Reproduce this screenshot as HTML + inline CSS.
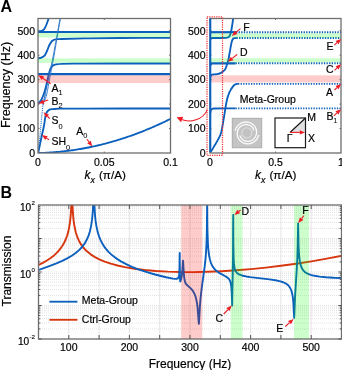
<!DOCTYPE html><html><head><meta charset="utf-8"><style>html,body{margin:0;padding:0;background:#fff;width:342px;height:370px;overflow:hidden}</style></head><body><svg width="342" height="370" viewBox="0 0 342 370" style="display:block;will-change:transform;font-family:'Liberation Sans',sans-serif;"><defs><clipPath id="cl"><rect x="38.0" y="18.5" width="132.5" height="134.5"/></clipPath><clipPath id="cr"><rect x="210.0" y="18.5" width="131.0" height="134.5"/></clipPath><clipPath id="cb"><rect x="38.5" y="205.0" width="303.0" height="134.0"/></clipPath></defs><rect width="342" height="370" fill="#fff"/><text x="0.5" y="11.6" font-size="16" text-anchor="start" font-weight="bold" fill="#000" >A</text>
<text x="0.5" y="197.6" font-size="16" text-anchor="start" font-weight="bold" fill="#000" >B</text>
<path d="M38 153 L39.33 152.97 L40.65 152.94 L41.98 152.9 L43.3 152.85 L44.62 152.8 L45.95 152.74 L47.28 152.68 L48.6 152.61 L49.92 152.53 L51.25 152.44 L52.58 152.35 L53.9 152.26 L55.23 152.15 L56.55 152.04 L57.88 151.93 L59.2 151.81 L60.53 151.68 L61.85 151.54 L63.18 151.4 L64.5 151.25 L65.83 151.1 L67.15 150.94 L68.48 150.77 L69.8 150.6 L71.12 150.42 L72.45 150.24 L73.78 150.04 L75.1 149.84 L76.43 149.64 L77.75 149.43 L79.08 149.21 L80.4 148.99 L81.72 148.76 L83.05 148.52 L84.38 148.28 L85.7 148.03 L87.03 147.77 L88.35 147.51 L89.68 147.24 L91 146.97 L92.33 146.69 L93.65 146.4 L94.97 146.11 L96.3 145.81 L97.62 145.5 L98.95 145.19 L100.28 144.87 L101.6 144.54 L102.92 144.21 L104.25 143.88 L105.58 143.53 L106.9 143.18 L108.23 142.82 L109.55 142.46 L110.88 142.09 L112.2 141.71 L113.53 141.33 L114.85 140.94 L116.18 140.55 L117.5 140.15 L118.83 139.74 L120.15 139.32 L121.47 138.9 L122.8 138.48 L124.12 138.04 L125.45 137.6 L126.78 137.16 L128.1 136.71 L129.43 136.25 L130.75 135.78 L132.08 135.31 L133.4 134.83 L134.73 134.35 L136.05 133.86 L137.38 133.36 L138.7 132.86 L140.03 132.35 L141.35 131.84 L142.68 131.31 L144 130.79 L145.32 130.25 L146.65 129.71 L147.98 129.16 L149.3 128.61 L150.62 128.05 L151.95 127.48 L153.28 126.91 L154.6 126.33 L155.93 125.74 L157.25 125.15 L158.57 124.55 L159.9 123.95 L161.23 123.34 L162.55 122.72 L163.88 122.1 L165.2 121.47 L166.53 120.83 L167.85 120.19 L169.18 119.54 L170.5 118.89" fill="none" stroke="#0b5fbd" stroke-width="1.85" stroke-linejoin="round" clip-path="url(#cl)"/>
<path d="M38.2 153 C38.67 150.75 40.02 144.17 41 139.5 C41.98 134.83 43.38 128.75 44.1 125 C44.82 121.25 44.85 119.12 45.3 117 C45.75 114.88 46.1 113.53 46.8 112.3 C47.5 111.07 48.47 110.13 49.5 109.6 C50.53 109.07 51.25 109.25 53 109.1 C54.75 108.95 55.5 108.78 60 108.7 C64.5 108.62 61.58 108.63 80 108.6 C98.42 108.57 155.42 108.52 170.5 108.5" fill="none" stroke="#0b5fbd" stroke-width="1.85" stroke-linejoin="round" clip-path="url(#cl)"/>
<path d="M38 32 L170.5 32" fill="none" stroke="#0b5fbd" stroke-width="2.2" stroke-linejoin="round" />
<path d="M38 74.2 L170.5 74.2" fill="none" stroke="#0b5fbd" stroke-width="2.2" stroke-linejoin="round" />
<path d="M38 31.3 C38.58 31.25 40.5 31.32 41.5 31 C42.5 30.68 43.2 30.4 44 29.4 C44.8 28.4 45.5 26.9 46.3 25 C47.1 23.1 48.38 19.17 48.8 18" fill="none" stroke="#0b5fbd" stroke-width="1.85" stroke-linejoin="round" clip-path="url(#cl)"/>
<path d="M38 58.4 C38.58 58.27 40.37 58.12 41.5 57.6 C42.63 57.08 43.85 56.48 44.8 55.3 C45.75 54.12 46.43 52.22 47.2 50.5 C47.97 48.78 48.6 46.58 49.4 45 C50.2 43.42 50.98 41.95 52 41 C53.02 40.05 53.83 39.63 55.5 39.3 C57.17 38.97 56.75 39.15 62 39 C67.25 38.85 77.33 38.57 87 38.4 C96.67 38.23 106.08 38.1 120 38 C133.92 37.9 162.08 37.83 170.5 37.8" fill="none" stroke="#0b5fbd" stroke-width="1.85" stroke-linejoin="round" clip-path="url(#cl)"/>
<path d="M38.2 103.8 C38.7 103.17 40.23 101.72 41.2 100 C42.17 98.28 43.15 95.97 44 93.5 C44.85 91.03 45.53 88.28 46.3 85.2 C47.07 82.12 47.92 77.7 48.6 75 C49.28 72.3 49.7 70.57 50.4 69 C51.1 67.43 51.55 66.4 52.8 65.6 C54.05 64.8 54.62 64.53 57.9 64.2 C61.18 63.87 53.73 63.72 72.5 63.6 C91.27 63.48 154.17 63.52 170.5 63.5" fill="none" stroke="#0b5fbd" stroke-width="1.85" stroke-linejoin="round" clip-path="url(#cl)"/>
<path d="M38.3 152.5 C38.58 149.58 39.45 140.75 40 135 C40.55 129.25 41.1 122.95 41.6 118 C42.1 113.05 42.4 109.3 43 105.3 C43.6 101.3 44.83 95.88 45.2 94" fill="none" stroke="#2a74c8" stroke-width="1.1" stroke-dasharray="1 0.9" stroke-linejoin="round" clip-path="url(#cl)"/>
<path d="M43 105.3 C43.38 103.42 44.37 98.55 45.3 94 C46.23 89.45 47.48 83.33 48.6 78 C49.72 72.67 50.73 68.33 52 62 C53.27 55.67 54.85 47.33 56.2 40 C57.55 32.67 59.45 21.67 60.1 18" fill="none" stroke="#2a74c8" stroke-width="0.9" stroke-linejoin="round" clip-path="url(#cl)"/>
<path d="M44.6 101 C44.97 99.83 45.93 97.83 46.8 94 C47.67 90.17 48.78 83.33 49.8 78 C50.82 72.67 51.75 68.33 52.9 62 C54.05 55.67 55.43 47.33 56.7 40 C57.97 32.67 59.87 21.67 60.5 18" fill="none" stroke="#2a74c8" stroke-width="0.9" stroke-linejoin="round" clip-path="url(#cl)"/>
<rect x="38" y="33.1" width="132.5" height="4.3" fill="rgba(0,255,0,0.2)" />
<rect x="38" y="58.3" width="132.5" height="4.6" fill="rgba(0,255,0,0.2)" />
<rect x="38" y="75.3" width="132.5" height="7.7" fill="rgba(255,0,0,0.2)" />
<path d="M209.8 152.6 C210.22 152.07 211.48 150.62 212.3 149.4 C213.12 148.18 213.75 146.92 214.7 145.3 C215.65 143.68 216.92 141.85 218 139.7 C219.08 137.55 220.27 135.78 221.2 132.4 C222.13 129.02 222.93 123.18 223.6 119.4 C224.27 115.62 224.65 112.93 225.2 109.7 C225.75 106.47 226.2 102.9 226.9 100 C227.6 97.1 228.32 94.67 229.4 92.3 C230.48 89.93 232.3 87.17 233.4 85.8 C234.5 84.43 235.23 84.42 236 84.1 C236.77 83.78 237.67 83.93 238 83.9" fill="none" stroke="#0b5fbd" stroke-width="1.85" stroke-linejoin="round" />
<path d="M238 83.9 L341 83.9" fill="none" stroke="#0b5fbd" stroke-width="1.9" stroke-dasharray="1.3 1.3" stroke-linejoin="round" />
<path d="M210.3 113 C210.38 112.53 210.47 110.9 210.8 110.2 C211.13 109.5 211.6 109.08 212.3 108.8 C213 108.52 211.13 108.57 215 108.5 C218.87 108.43 232.08 108.42 235.5 108.4" fill="none" stroke="#0b5fbd" stroke-width="1.85" stroke-linejoin="round" />
<path d="M235.5 108.4 L341 108.4" fill="none" stroke="#0b5fbd" stroke-width="1.9" stroke-dasharray="1.3 1.3" stroke-linejoin="round" />
<path d="M210.3 77 C210.45 76.67 210.75 75.42 211.2 75 C211.65 74.58 212.03 74.63 213 74.5 C213.97 74.37 215.75 74.43 217 74.2 C218.25 73.97 219.47 73.6 220.5 73.1 C221.53 72.6 222.38 71.92 223.2 71.2 C224.02 70.48 224.57 70.6 225.4 68.8 C226.23 67 227.38 63.68 228.2 60.4 C229.02 57.12 229.7 52.25 230.3 49.1 C230.9 45.95 231.3 43.27 231.8 41.5 C232.3 39.73 232.77 39.07 233.3 38.5 C233.83 37.93 234.47 38.18 235 38.1 C235.53 38.02 236.25 38.02 236.5 38" fill="none" stroke="#0b5fbd" stroke-width="1.85" stroke-linejoin="round" />
<path d="M236.5 38 L341 38" fill="none" stroke="#0b5fbd" stroke-width="1.9" stroke-dasharray="1.3 1.3" stroke-linejoin="round" />
<path d="M210.3 40 C210.45 39.72 210.75 38.63 211.2 38.3 C211.65 37.97 211.53 38.05 213 38 C214.47 37.95 217.58 38.07 220 38 C222.42 37.93 225.87 37.97 227.5 37.6 C229.13 37.23 229.18 36.9 229.8 35.8 C230.42 34.7 230.77 32.97 231.2 31 C231.63 29.03 232.07 26.17 232.4 24 C232.73 21.83 233.07 19 233.2 18" fill="none" stroke="#0b5fbd" stroke-width="1.85" stroke-linejoin="round" clip-path="url(#cr)"/>
<path d="M210.3 65.5 C210.42 65.23 210.63 64.25 211 63.9 C211.37 63.55 208.42 63.5 212.5 63.4 C216.58 63.3 231.67 63.32 235.5 63.3" fill="none" stroke="#0b5fbd" stroke-width="2.2" stroke-linejoin="round" />
<path d="M235.5 63.2 L341 63.2" fill="none" stroke="#0b5fbd" stroke-width="1.9" stroke-dasharray="1.3 1.3" stroke-linejoin="round" />
<path d="M210.5 32.2 L236 32.2" fill="none" stroke="#0b5fbd" stroke-width="2.2" stroke-linejoin="round" />
<path d="M236 32.2 L341 32.2" fill="none" stroke="#0b5fbd" stroke-width="1.9" stroke-dasharray="1.3 1.3" stroke-linejoin="round" />
<rect x="210" y="33.3" width="131" height="4.4" fill="rgba(0,255,0,0.2)" />
<rect x="210" y="58.2" width="131" height="4.2" fill="rgba(0,255,0,0.2)" />
<rect x="210" y="75.3" width="131" height="7.2" fill="rgba(255,0,0,0.2)" />
<rect x="38" y="18.5" width="132.5" height="134.5" fill="none" stroke="#6e6e6e" stroke-width="1.3"/>
<line x1="38" y1="128.55" x2="39.5" y2="128.55" stroke="#6e6e6e" stroke-width="1" />
<line x1="170.5" y1="128.55" x2="169" y2="128.55" stroke="#6e6e6e" stroke-width="1" />
<line x1="38" y1="104.09" x2="39.5" y2="104.09" stroke="#6e6e6e" stroke-width="1" />
<line x1="170.5" y1="104.09" x2="169" y2="104.09" stroke="#6e6e6e" stroke-width="1" />
<line x1="38" y1="79.64" x2="39.5" y2="79.64" stroke="#6e6e6e" stroke-width="1" />
<line x1="170.5" y1="79.64" x2="169" y2="79.64" stroke="#6e6e6e" stroke-width="1" />
<line x1="38" y1="55.18" x2="39.5" y2="55.18" stroke="#6e6e6e" stroke-width="1" />
<line x1="170.5" y1="55.18" x2="169" y2="55.18" stroke="#6e6e6e" stroke-width="1" />
<line x1="38" y1="30.73" x2="39.5" y2="30.73" stroke="#6e6e6e" stroke-width="1" />
<line x1="170.5" y1="30.73" x2="169" y2="30.73" stroke="#6e6e6e" stroke-width="1" />
<rect x="210" y="18.5" width="131" height="134.5" fill="none" stroke="#6e6e6e" stroke-width="1.3"/>
<line x1="210" y1="128.55" x2="211.5" y2="128.55" stroke="#6e6e6e" stroke-width="1" />
<line x1="341" y1="128.55" x2="339.5" y2="128.55" stroke="#6e6e6e" stroke-width="1" />
<line x1="210" y1="104.09" x2="211.5" y2="104.09" stroke="#6e6e6e" stroke-width="1" />
<line x1="341" y1="104.09" x2="339.5" y2="104.09" stroke="#6e6e6e" stroke-width="1" />
<line x1="210" y1="79.64" x2="211.5" y2="79.64" stroke="#6e6e6e" stroke-width="1" />
<line x1="341" y1="79.64" x2="339.5" y2="79.64" stroke="#6e6e6e" stroke-width="1" />
<line x1="210" y1="55.18" x2="211.5" y2="55.18" stroke="#6e6e6e" stroke-width="1" />
<line x1="341" y1="55.18" x2="339.5" y2="55.18" stroke="#6e6e6e" stroke-width="1" />
<line x1="210" y1="30.73" x2="211.5" y2="30.73" stroke="#6e6e6e" stroke-width="1" />
<line x1="341" y1="30.73" x2="339.5" y2="30.73" stroke="#6e6e6e" stroke-width="1" />
<path d="M210.3 18.5 L210.3 152" fill="none" stroke="#0b5fbd" stroke-width="2.0" stroke-linejoin="round" />
<line x1="104.25" y1="153" x2="104.25" y2="151.5" stroke="#6e6e6e" stroke-width="1" />
<line x1="104.25" y1="18.5" x2="104.25" y2="20" stroke="#6e6e6e" stroke-width="1" />
<line x1="275.5" y1="153" x2="275.5" y2="151.5" stroke="#6e6e6e" stroke-width="1" />
<line x1="275.5" y1="18.5" x2="275.5" y2="20" stroke="#6e6e6e" stroke-width="1" />
<text x="35" y="156.8" font-size="10.5" text-anchor="end" font-weight="normal" fill="#000" stroke="#000" stroke-width="0.18" >0</text>
<text x="205.5" y="156.8" font-size="10.5" text-anchor="end" font-weight="normal" fill="#000" stroke="#000" stroke-width="0.18" >0</text>
<text x="35" y="132.35" font-size="10.5" text-anchor="end" font-weight="normal" fill="#000" stroke="#000" stroke-width="0.18" >100</text>
<text x="205.5" y="132.35" font-size="10.5" text-anchor="end" font-weight="normal" fill="#000" stroke="#000" stroke-width="0.18" >100</text>
<text x="35" y="107.89" font-size="10.5" text-anchor="end" font-weight="normal" fill="#000" stroke="#000" stroke-width="0.18" >200</text>
<text x="205.5" y="107.89" font-size="10.5" text-anchor="end" font-weight="normal" fill="#000" stroke="#000" stroke-width="0.18" >200</text>
<text x="35" y="83.44" font-size="10.5" text-anchor="end" font-weight="normal" fill="#000" stroke="#000" stroke-width="0.18" >300</text>
<text x="205.5" y="83.44" font-size="10.5" text-anchor="end" font-weight="normal" fill="#000" stroke="#000" stroke-width="0.18" >300</text>
<text x="35" y="58.98" font-size="10.5" text-anchor="end" font-weight="normal" fill="#000" stroke="#000" stroke-width="0.18" >400</text>
<text x="205.5" y="58.98" font-size="10.5" text-anchor="end" font-weight="normal" fill="#000" stroke="#000" stroke-width="0.18" >400</text>
<text x="35" y="34.53" font-size="10.5" text-anchor="end" font-weight="normal" fill="#000" stroke="#000" stroke-width="0.18" >500</text>
<text x="205.5" y="34.53" font-size="10.5" text-anchor="end" font-weight="normal" fill="#000" stroke="#000" stroke-width="0.18" >500</text>
<text x="38" y="165.5" font-size="10.5" text-anchor="middle" font-weight="normal" fill="#000" stroke="#000" stroke-width="0.18" >0</text>
<text x="104.25" y="165.5" font-size="10.5" text-anchor="middle" font-weight="normal" fill="#000" stroke="#000" stroke-width="0.18" >0.05</text>
<text x="170.5" y="165.5" font-size="10.5" text-anchor="middle" font-weight="normal" fill="#000" stroke="#000" stroke-width="0.18" >0.1</text>
<text x="210" y="165.5" font-size="10.5" text-anchor="middle" font-weight="normal" fill="#000" stroke="#000" stroke-width="0.18" >0</text>
<text x="275.5" y="165.5" font-size="10.5" text-anchor="middle" font-weight="normal" fill="#000" stroke="#000" stroke-width="0.18" >0.5</text>
<text x="341" y="165.5" font-size="10.5" text-anchor="middle" font-weight="normal" fill="#000" stroke="#000" stroke-width="0.18" >1</text>
<text x="84.5" y="178.5" font-size="12" text-anchor="start" font-weight="normal" fill="#000" stroke="#000" stroke-width="0.18" ><tspan font-style="italic">k</tspan><tspan font-size="8.8" font-style="italic" dy="4.9">x</tspan><tspan dy="-4.9" dx="0.8" font-size="11.7"> (π/A)</tspan></text>
<text x="255" y="178.5" font-size="12" text-anchor="start" font-weight="normal" fill="#000" stroke="#000" stroke-width="0.18" ><tspan font-style="italic">k</tspan><tspan font-size="8.8" font-style="italic" dy="4.9">x</tspan><tspan dy="-4.9" dx="0.8" font-size="11.7"> (π/A)</tspan></text>
<text x="10" y="85" font-size="12.5" text-anchor="middle" font-weight="normal" fill="#000" stroke="#000" stroke-width="0.18" transform="rotate(-90 10.0 85)">Frequency (Hz)</text>
<text x="51.4" y="92.2" font-size="10.5" text-anchor="start" font-weight="normal" fill="#000" stroke="#000" stroke-width="0.18" >A<tspan font-size="7.4" dy="3.0" stroke-width="0.05">1</tspan></text>
<text x="51.4" y="105.2" font-size="10.5" text-anchor="start" font-weight="normal" fill="#000" stroke="#000" stroke-width="0.18" >B<tspan font-size="7.4" dy="3.0" stroke-width="0.05">2</tspan></text>
<text x="51.4" y="124.3" font-size="10.5" text-anchor="start" font-weight="normal" fill="#000" stroke="#000" stroke-width="0.18" >S<tspan font-size="7.4" dy="4.4" stroke-width="0.05">0</tspan></text>
<text x="51.4" y="144.9" font-size="10.5" text-anchor="start" font-weight="normal" fill="#000" stroke="#000" stroke-width="0.18" >SH<tspan font-size="7.4" dy="4.8" stroke-width="0.05">0</tspan></text>
<text x="76.3" y="134.8" font-size="10.5" text-anchor="start" font-weight="normal" fill="#000" stroke="#000" stroke-width="0.18" >A<tspan font-size="7.4" dy="3.0" stroke-width="0.05">0</tspan></text>
<line x1="50.6" y1="83.8" x2="42.86" y2="78.22" stroke="#ee1c24" stroke-width="1.1" />
<path d="M38.4 75 L44.18 76.39 L41.54 80.04 Z" fill="#ee1c24"/>
<line x1="48.2" y1="100" x2="43.78" y2="101.56" stroke="#ee1c24" stroke-width="1.1" />
<path d="M38.6 103.4 L43.03 99.44 L44.54 103.68 Z" fill="#ee1c24"/>
<line x1="49.8" y1="118.7" x2="47.43" y2="116.25" stroke="#ee1c24" stroke-width="1.1" />
<path d="M43.6 112.3 L49.04 114.68 L45.81 117.82 Z" fill="#ee1c24"/>
<line x1="49" y1="139.8" x2="46.49" y2="138.14" stroke="#ee1c24" stroke-width="1.1" />
<path d="M41.9 135.1 L47.73 136.26 L45.24 140.01 Z" fill="#ee1c24"/>
<line x1="87" y1="139.3" x2="89.01" y2="141.99" stroke="#ee1c24" stroke-width="1.1" />
<path d="M92.3 146.4 L87.21 143.34 L90.81 140.65 Z" fill="#ee1c24"/>
<text x="243.3" y="30.6" font-size="10.5" text-anchor="start" font-weight="normal" fill="#000" stroke="#000" stroke-width="0.18" >F</text>
<line x1="240.4" y1="28.7" x2="236.02" y2="32.37" stroke="#ee1c24" stroke-width="1.1" />
<path d="M231.8 35.9 L234.57 30.64 L237.46 34.09 Z" fill="#ee1c24"/>
<text x="239.9" y="56.2" font-size="10.5" text-anchor="start" font-weight="normal" fill="#000" stroke="#000" stroke-width="0.18" >D</text>
<line x1="237.2" y1="54.5" x2="232.14" y2="58.43" stroke="#ee1c24" stroke-width="1.1" />
<path d="M227.8 61.8 L230.76 56.65 L233.52 60.2 Z" fill="#ee1c24"/>
<text x="326.6" y="49.5" font-size="10.5" text-anchor="start" font-weight="normal" fill="#000" stroke="#000" stroke-width="0.18" >E</text>
<line x1="334.4" y1="45.2" x2="337.09" y2="42.67" stroke="#ee1c24" stroke-width="1.1" />
<path d="M341.1 38.9 L338.63 44.31 L335.55 41.03 Z" fill="#ee1c24"/>
<text x="326" y="73" font-size="10.5" text-anchor="start" font-weight="normal" fill="#000" stroke="#000" stroke-width="0.18" >C</text>
<line x1="334.5" y1="70.4" x2="337.09" y2="67.97" stroke="#ee1c24" stroke-width="1.1" />
<path d="M341.1 64.2 L338.63 69.61 L335.55 66.33 Z" fill="#ee1c24"/>
<text x="326" y="96.2" font-size="10.5" text-anchor="start" font-weight="normal" fill="#000" stroke="#000" stroke-width="0.18" >A<tspan font-size="7.4" dy="3.0" stroke-width="0.05"></tspan></text>
<line x1="334.5" y1="90" x2="337.03" y2="87.7" stroke="#ee1c24" stroke-width="1.1" />
<path d="M341.1 84 L338.54 89.36 L335.52 86.03 Z" fill="#ee1c24"/>
<text x="326.6" y="119.6" font-size="10.5" text-anchor="start" font-weight="normal" fill="#000" stroke="#000" stroke-width="0.18" >B<tspan font-size="6.6" dy="3.4" stroke-width="0.05">1</tspan></text>
<line x1="333.8" y1="115.8" x2="336.95" y2="112.92" stroke="#ee1c24" stroke-width="1.1" />
<path d="M341 109.2 L338.47 114.58 L335.43 111.26 Z" fill="#ee1c24"/>
<text x="239.8" y="103.4" font-size="10.5" text-anchor="start" font-weight="normal" fill="#000" stroke="#000" stroke-width="0.18" >Meta-Group</text>
<rect x="207" y="16.8" width="15.5" height="138.5" fill="none" stroke="#f03030" stroke-width="1.25" stroke-dasharray="1.2 1.1"/>
<path d="M207.4 109.6 C 203 120, 190 123, 181.5 119.6" fill="none" stroke="#ee1c24" stroke-width="1.1"/>
<path d="M176.6 117.3 L183.2 116.8 L181.0 122.3 Z" fill="#ee1c24"/>
<rect x="232.3" y="118.3" width="29.4" height="29.4" fill="#c4c4c4" stroke="#acacac" stroke-width="1"/>
<path d="M235.08 130.82 C235.14 130.63 235.28 130.07 235.41 129.71 C235.54 129.35 235.68 129 235.84 128.65 C236 128.31 236.18 127.97 236.37 127.65 C236.56 127.32 236.76 127.01 236.98 126.7 C237.2 126.4 237.44 126.11 237.68 125.83 C237.93 125.55 238.19 125.28 238.46 125.03 C238.73 124.78 239.01 124.54 239.3 124.31 C239.6 124.09 239.9 123.88 240.21 123.69 C240.52 123.49 240.84 123.32 241.16 123.15 C241.48 122.99 241.82 122.85 242.15 122.72 C242.49 122.59 242.83 122.48 243.18 122.38 C243.52 122.29 243.87 122.21 244.22 122.15 C244.57 122.09 244.92 122.04 245.27 122.02 C245.63 121.99 245.98 121.98 246.33 121.99 C246.68 122 247.03 122.02 247.37 122.06 C247.72 122.1 248.06 122.16 248.4 122.23 C248.74 122.3 249.07 122.39 249.4 122.5 C249.72 122.6 250.05 122.72 250.36 122.86 C250.67 122.99 250.98 123.14 251.27 123.31 C251.57 123.47 251.86 123.65 252.13 123.84 C252.41 124.02 252.68 124.23 252.93 124.44 C253.19 124.65 253.43 124.88 253.67 125.12 C253.9 125.35 254.12 125.6 254.33 125.85 C254.53 126.11 254.73 126.37 254.91 126.64 C255.09 126.92 255.25 127.2 255.4 127.48 C255.56 127.77 255.69 128.06 255.82 128.36 C255.94 128.65 256.05 128.96 256.14 129.26 C256.23 129.57 256.31 129.87 256.37 130.18 C256.43 130.49 256.48 130.81 256.51 131.12 C256.54 131.43 256.56 131.74 256.56 132.05 C256.56 132.37 256.55 132.68 256.52 132.98 C256.49 133.29 256.45 133.6 256.39 133.9 C256.34 134.2 256.27 134.5 256.18 134.79 C256.09 135.08 255.99 135.37 255.88 135.65 C255.77 135.93 255.64 136.2 255.51 136.47 C255.37 136.73 255.22 136.99 255.06 137.24 C254.9 137.49 254.72 137.73 254.54 137.96 C254.36 138.19 254.16 138.41 253.96 138.62 C253.76 138.83 253.55 139.03 253.33 139.22 C253.11 139.4 252.88 139.58 252.64 139.74 C252.41 139.91 252.16 140.06 251.92 140.2 C251.67 140.34 251.41 140.47 251.16 140.58 C250.9 140.69 250.64 140.79 250.37 140.88 C250.11 140.97 249.84 141.04 249.57 141.1 C249.3 141.17 249.02 141.21 248.75 141.25 C248.48 141.28 248.2 141.3 247.93 141.31 C247.66 141.32 247.39 141.31 247.12 141.29 C246.85 141.28 246.58 141.24 246.32 141.2 C246.06 141.16 245.8 141.1 245.54 141.03 C245.28 140.96 245.03 140.88 244.79 140.79 C244.54 140.7 244.3 140.59 244.07 140.48 C243.83 140.36 243.61 140.24 243.39 140.1 C243.17 139.97 242.96 139.82 242.75 139.67 C242.55 139.51 242.35 139.35 242.17 139.18 C241.98 139.01 241.81 138.83 241.64 138.64 C241.48 138.45 241.32 138.26 241.17 138.06 C241.03 137.86 240.89 137.65 240.77 137.44 C240.64 137.23 240.53 137.01 240.43 136.79 C240.32 136.57 240.23 136.35 240.15 136.12 C240.07 135.89 239.98 135.55 239.95 135.43" fill="none" stroke="#fbfbfb" stroke-width="1.3" stroke-linejoin="round" />
<path d="M258.72 134.98 C258.66 135.17 258.52 135.73 258.39 136.09 C258.26 136.45 258.12 136.8 257.96 137.15 C257.8 137.49 257.62 137.83 257.43 138.15 C257.24 138.48 257.04 138.79 256.82 139.1 C256.6 139.4 256.36 139.69 256.12 139.97 C255.87 140.25 255.61 140.52 255.34 140.77 C255.07 141.02 254.79 141.26 254.5 141.49 C254.2 141.71 253.9 141.92 253.59 142.11 C253.28 142.31 252.96 142.48 252.64 142.65 C252.32 142.81 251.98 142.95 251.65 143.08 C251.31 143.21 250.97 143.32 250.62 143.42 C250.28 143.51 249.93 143.59 249.58 143.65 C249.23 143.71 248.88 143.76 248.53 143.78 C248.17 143.81 247.82 143.82 247.47 143.81 C247.12 143.8 246.77 143.78 246.43 143.74 C246.08 143.7 245.74 143.64 245.4 143.57 C245.06 143.5 244.73 143.41 244.4 143.3 C244.08 143.2 243.75 143.08 243.44 142.94 C243.13 142.81 242.82 142.66 242.53 142.49 C242.23 142.33 241.94 142.15 241.67 141.96 C241.39 141.78 241.12 141.57 240.87 141.36 C240.61 141.15 240.37 140.92 240.13 140.68 C239.9 140.45 239.68 140.2 239.47 139.95 C239.27 139.69 239.07 139.43 238.89 139.16 C238.71 138.88 238.55 138.6 238.4 138.32 C238.24 138.03 238.11 137.74 237.98 137.44 C237.86 137.15 237.75 136.84 237.66 136.54 C237.57 136.23 237.49 135.93 237.43 135.62 C237.37 135.31 237.32 134.99 237.29 134.68 C237.26 134.37 237.24 134.06 237.24 133.75 C237.24 133.43 237.25 133.12 237.28 132.82 C237.31 132.51 237.35 132.2 237.41 131.9 C237.46 131.6 237.53 131.3 237.62 131.01 C237.71 130.72 237.81 130.43 237.92 130.15 C238.03 129.87 238.16 129.6 238.29 129.33 C238.43 129.07 238.58 128.81 238.74 128.56 C238.9 128.31 239.08 128.07 239.26 127.84 C239.44 127.61 239.64 127.39 239.84 127.18 C240.04 126.97 240.25 126.77 240.47 126.58 C240.69 126.4 240.92 126.22 241.16 126.06 C241.39 125.89 241.64 125.74 241.88 125.6 C242.13 125.46 242.39 125.33 242.64 125.22 C242.9 125.11 243.16 125.01 243.43 124.92 C243.69 124.83 243.96 124.76 244.23 124.7 C244.5 124.63 244.78 124.59 245.05 124.55 C245.32 124.52 245.6 124.5 245.87 124.49 C246.14 124.48 246.41 124.49 246.68 124.51 C246.95 124.52 247.22 124.56 247.48 124.6 C247.74 124.64 248 124.7 248.26 124.77 C248.52 124.84 248.77 124.92 249.01 125.01 C249.26 125.1 249.5 125.21 249.73 125.32 C249.97 125.44 250.19 125.56 250.41 125.7 C250.63 125.83 250.84 125.98 251.05 126.13 C251.25 126.29 251.45 126.45 251.63 126.62 C251.82 126.79 251.99 126.97 252.16 127.16 C252.32 127.35 252.48 127.54 252.63 127.74 C252.77 127.94 252.91 128.15 253.03 128.36 C253.16 128.57 253.27 128.79 253.37 129.01 C253.48 129.23 253.57 129.45 253.65 129.68 C253.73 129.91 253.82 130.25 253.85 130.37" fill="none" stroke="#fbfbfb" stroke-width="1.3" stroke-linejoin="round" />
<circle cx="246.9" cy="132.9" r="5.0" fill="#c2c2c2" stroke="#dadada" stroke-width="1.3"/>
<path d="M290 132.5 L305.5 118 L305.5 132.5 Z" fill="#e0e0e0"/>
<rect x="275" y="118" width="30.5" height="29.7" fill="none" stroke="#1a1a1a" stroke-width="1.2"/>
<line x1="290" y1="132.5" x2="305.5" y2="118" stroke="#111" stroke-width="1.1" />
<line x1="290" y1="132.4" x2="299.8" y2="132.4" stroke="#ee1c24" stroke-width="1.1" />
<path d="M305 132.4 L299.8 134.5 L299.8 130.3 Z" fill="#ee1c24"/>
<text x="307.3" y="120.8" font-size="10.5" text-anchor="start" font-weight="normal" fill="#000" stroke="#000" stroke-width="0.18" >M</text>
<text x="307.9" y="141.8" font-size="10.5" text-anchor="start" font-weight="normal" fill="#000" stroke="#000" stroke-width="0.18" >X</text>
<text x="286.8" y="141.6" font-size="10.5" text-anchor="start" font-weight="normal" fill="#000" stroke="#000" stroke-width="0.18" >Γ</text>
<line x1="38" y1="339" x2="341.5" y2="339" stroke="#dddddd" stroke-width="0.85" stroke-dasharray="1 1" />
<line x1="38" y1="328.92" x2="341.5" y2="328.92" stroke="#dddddd" stroke-width="0.85" stroke-dasharray="1 1" />
<line x1="38" y1="323.02" x2="341.5" y2="323.02" stroke="#dddddd" stroke-width="0.85" stroke-dasharray="1 1" />
<line x1="38" y1="318.83" x2="341.5" y2="318.83" stroke="#dddddd" stroke-width="0.85" stroke-dasharray="1 1" />
<line x1="38" y1="315.58" x2="341.5" y2="315.58" stroke="#dddddd" stroke-width="0.85" stroke-dasharray="1 1" />
<line x1="38" y1="312.93" x2="341.5" y2="312.93" stroke="#dddddd" stroke-width="0.85" stroke-dasharray="1 1" />
<line x1="38" y1="310.69" x2="341.5" y2="310.69" stroke="#dddddd" stroke-width="0.85" stroke-dasharray="1 1" />
<line x1="38" y1="308.75" x2="341.5" y2="308.75" stroke="#dddddd" stroke-width="0.85" stroke-dasharray="1 1" />
<line x1="38" y1="307.03" x2="341.5" y2="307.03" stroke="#dddddd" stroke-width="0.85" stroke-dasharray="1 1" />
<line x1="38" y1="305.5" x2="341.5" y2="305.5" stroke="#dddddd" stroke-width="0.85" stroke-dasharray="1 1" />
<line x1="38" y1="295.42" x2="341.5" y2="295.42" stroke="#dddddd" stroke-width="0.85" stroke-dasharray="1 1" />
<line x1="38" y1="289.52" x2="341.5" y2="289.52" stroke="#dddddd" stroke-width="0.85" stroke-dasharray="1 1" />
<line x1="38" y1="285.33" x2="341.5" y2="285.33" stroke="#dddddd" stroke-width="0.85" stroke-dasharray="1 1" />
<line x1="38" y1="282.08" x2="341.5" y2="282.08" stroke="#dddddd" stroke-width="0.85" stroke-dasharray="1 1" />
<line x1="38" y1="279.43" x2="341.5" y2="279.43" stroke="#dddddd" stroke-width="0.85" stroke-dasharray="1 1" />
<line x1="38" y1="277.19" x2="341.5" y2="277.19" stroke="#dddddd" stroke-width="0.85" stroke-dasharray="1 1" />
<line x1="38" y1="275.25" x2="341.5" y2="275.25" stroke="#dddddd" stroke-width="0.85" stroke-dasharray="1 1" />
<line x1="38" y1="273.53" x2="341.5" y2="273.53" stroke="#dddddd" stroke-width="0.85" stroke-dasharray="1 1" />
<line x1="38" y1="272" x2="341.5" y2="272" stroke="#dddddd" stroke-width="0.85" stroke-dasharray="1 1" />
<line x1="38" y1="261.92" x2="341.5" y2="261.92" stroke="#dddddd" stroke-width="0.85" stroke-dasharray="1 1" />
<line x1="38" y1="256.02" x2="341.5" y2="256.02" stroke="#dddddd" stroke-width="0.85" stroke-dasharray="1 1" />
<line x1="38" y1="251.83" x2="341.5" y2="251.83" stroke="#dddddd" stroke-width="0.85" stroke-dasharray="1 1" />
<line x1="38" y1="248.58" x2="341.5" y2="248.58" stroke="#dddddd" stroke-width="0.85" stroke-dasharray="1 1" />
<line x1="38" y1="245.93" x2="341.5" y2="245.93" stroke="#dddddd" stroke-width="0.85" stroke-dasharray="1 1" />
<line x1="38" y1="243.69" x2="341.5" y2="243.69" stroke="#dddddd" stroke-width="0.85" stroke-dasharray="1 1" />
<line x1="38" y1="241.75" x2="341.5" y2="241.75" stroke="#dddddd" stroke-width="0.85" stroke-dasharray="1 1" />
<line x1="38" y1="240.03" x2="341.5" y2="240.03" stroke="#dddddd" stroke-width="0.85" stroke-dasharray="1 1" />
<line x1="38" y1="238.5" x2="341.5" y2="238.5" stroke="#dddddd" stroke-width="0.85" stroke-dasharray="1 1" />
<line x1="38" y1="228.42" x2="341.5" y2="228.42" stroke="#dddddd" stroke-width="0.85" stroke-dasharray="1 1" />
<line x1="38" y1="222.52" x2="341.5" y2="222.52" stroke="#dddddd" stroke-width="0.85" stroke-dasharray="1 1" />
<line x1="38" y1="218.33" x2="341.5" y2="218.33" stroke="#dddddd" stroke-width="0.85" stroke-dasharray="1 1" />
<line x1="38" y1="215.08" x2="341.5" y2="215.08" stroke="#dddddd" stroke-width="0.85" stroke-dasharray="1 1" />
<line x1="38" y1="212.43" x2="341.5" y2="212.43" stroke="#dddddd" stroke-width="0.85" stroke-dasharray="1 1" />
<line x1="38" y1="210.19" x2="341.5" y2="210.19" stroke="#dddddd" stroke-width="0.85" stroke-dasharray="1 1" />
<line x1="38" y1="208.25" x2="341.5" y2="208.25" stroke="#dddddd" stroke-width="0.85" stroke-dasharray="1 1" />
<line x1="38" y1="206.53" x2="341.5" y2="206.53" stroke="#dddddd" stroke-width="0.85" stroke-dasharray="1 1" />
<line x1="38.5" y1="205" x2="341.5" y2="205" stroke="#dddddd" stroke-width="0.85" stroke-dasharray="1 1" />
<line x1="68.8" y1="205" x2="68.8" y2="339" stroke="#e2e2e2" stroke-width="0.9" />
<line x1="99.1" y1="205" x2="99.1" y2="339" stroke="#e2e2e2" stroke-width="0.9" />
<line x1="129.4" y1="205" x2="129.4" y2="339" stroke="#e2e2e2" stroke-width="0.9" />
<line x1="159.7" y1="205" x2="159.7" y2="339" stroke="#e2e2e2" stroke-width="0.9" />
<line x1="190" y1="205" x2="190" y2="339" stroke="#e2e2e2" stroke-width="0.9" />
<line x1="220.3" y1="205" x2="220.3" y2="339" stroke="#e2e2e2" stroke-width="0.9" />
<line x1="250.6" y1="205" x2="250.6" y2="339" stroke="#e2e2e2" stroke-width="0.9" />
<line x1="280.9" y1="205" x2="280.9" y2="339" stroke="#e2e2e2" stroke-width="0.9" />
<line x1="311.2" y1="205" x2="311.2" y2="339" stroke="#e2e2e2" stroke-width="0.9" />
<g clip-path="url(#cb)">
<path d="M38.2 265.13 L42.77 262.87 L46.92 260.5 L50.67 258.01 L54.02 255.38 L57 252.62 L59.63 249.68 L61.93 246.56 L63.93 243.22 L65.6 239.73 L67.01 235.97 L68.2 231.87 L69.18 227.37 L69.96 222.43 L70.58 216.86 L71.05 210.56 L71.41 203 L72.37 203 L72.86 212.44 L73.55 220.07 L74.5 226.56 L75.76 232.18 L77.19 236.68 L78.93 240.73 L81.02 244.41 L83.5 247.76 L86.63 251.07 L90.29 254.09 L94.5 256.83 L99.29 259.33 L104.71 261.6 L110.77 263.65 L117.48 265.47 L124.85 267.08 L134.31 268.69 L144.65 269.99 L155.83 270.99 L167.78 271.67 L180.44 272.03 L193.7 272.08 L207.49 271.8 L221.71 271.21 L236.17 270.31 L250.89 269.1 L265.83 267.59 L280.93 265.79 L296.13 263.69 L311.41 261.32 L326.74 258.66 L342.1 255.72" fill="none" stroke="#d7360e" stroke-width="1.9" stroke-linejoin="round" />
<path d="M38.2 270.08 L49.93 265.8 L56.43 263.3 L62.22 260.83 L67.16 258.42 L71.73 255.8 L75.68 253.06 L79.11 250.14 L82.07 246.99 L84.53 243.68 L86.62 240.06 L88.36 236.09 L89.8 231.68 L91.08 226.11 L92.05 219.71 L92.76 212.18 L93.25 203 L94.28 203 L95.04 215.55 L95.58 220.65 L96.25 225.25 L97.08 229.44 L98.06 233.29 L99.23 236.86 L100.59 240.16 L102.2 243.33 L104.05 246.32 L106.15 249.15 L108.52 251.82 L111.17 254.37 L114.12 256.81 L117.38 259.14 L120.95 261.37 L126.15 264.16 L131.92 266.8 L138.31 269.3 L145.35 271.68 L155.02 274.49 L166.07 277.25 L173.02 278.68 L175.02 278.91 L176.45 278.87 L177.53 278.52 L178.27 277.82 L178.76 276.68 L179.1 274.92 L179.47 268.34 L179.69 252.91 L179.91 275.29 L180.17 281.23 L180.27 281.38 L180.42 281.15 L181.06 279.18 L181.86 275.21 L182.29 271.08 L182.87 261.72 L183.04 260.63 L184.01 275.81 L184.49 279.54 L185.1 282.09 L185.69 283.41 L186.46 284.51 L190.73 288.34 L191.91 289.65 L192.94 291.06 L193.9 292.7 L194.75 294.52 L195.48 296.54 L196.13 298.8 L196.95 302.84 L197.61 307.73 L198.84 323.92 L199.02 322.16 L199.85 306.85 L200.64 297.37 L201.71 288.2 L204.68 266.68 L205.42 259.89 L205.98 253.02 L206.47 244.34 L206.79 234.39 L207.15 204.58 L207.4 228.22 L207.82 241.8 L208.17 247.29 L208.62 251.99 L209.2 256 L209.91 259.42 L210.82 262.51 L211.94 265.17 L213.29 267.47 L214.92 269.48 L216.66 271.09 L218.72 272.58 L225.37 276.22 L227.16 277.36 L228.72 278.81 L229.83 280.52 L230.37 281.87 L230.8 283.49 L231.42 287.84 L231.8 293.82 L232.16 305.5 L233 256.06 L233.21 215.05 L233.34 244.39 L233.68 259.09 L233.98 263.68 L234.42 267.11 L235.03 269.63 L235.86 271.52 L236.95 272.92 L238.42 274.03 L240.39 274.95 L243 275.75 L246.22 276.44 L250.35 277.1 L269.52 279.38 L276.99 280.56 L280.42 281.35 L283.2 282.24 L285.48 283.28 L287.34 284.5 L289.04 286.18 L290.38 288.24 L291.44 290.79 L292.27 293.97 L292.89 297.7 L293.36 302.29 L294.21 317.89 L295.18 294.15 L296.83 267.99 L297.38 257.1 L297.79 243.9 L298.11 223.43 L298.55 245.51 L298.87 252.24 L299.32 257.58 L299.95 261.97 L300.78 265.43 L301.87 268.19 L303.27 270.4 L305.13 272.22 L307.52 273.67 L310.58 274.84 L314.47 275.8 L319.61 276.61 L326 277.26 L333.69 277.76 L342.1 278.06" fill="none" stroke="#0b5fbd" stroke-width="1.9" stroke-linejoin="round" />
</g>
<rect x="181.2" y="205" width="21.1" height="134" fill="rgba(255,0,0,0.2)" />
<rect x="230.9" y="205" width="11.6" height="134" fill="rgba(0,255,0,0.2)" />
<rect x="294" y="205" width="15" height="134" fill="rgba(0,255,0,0.2)" />
<rect x="38.5" y="205" width="303" height="134" fill="none" stroke="#6e6e6e" stroke-width="1.3"/>
<line x1="38.5" y1="339" x2="41.7" y2="339" stroke="#555" stroke-width="1" />
<line x1="341.5" y1="339" x2="338.3" y2="339" stroke="#555" stroke-width="1" />
<line x1="38.5" y1="328.92" x2="40.3" y2="328.92" stroke="#555" stroke-width="1" />
<line x1="341.5" y1="328.92" x2="339.7" y2="328.92" stroke="#555" stroke-width="1" />
<line x1="38.5" y1="323.02" x2="40.3" y2="323.02" stroke="#555" stroke-width="1" />
<line x1="341.5" y1="323.02" x2="339.7" y2="323.02" stroke="#555" stroke-width="1" />
<line x1="38.5" y1="318.83" x2="40.3" y2="318.83" stroke="#555" stroke-width="1" />
<line x1="341.5" y1="318.83" x2="339.7" y2="318.83" stroke="#555" stroke-width="1" />
<line x1="38.5" y1="315.58" x2="40.3" y2="315.58" stroke="#555" stroke-width="1" />
<line x1="341.5" y1="315.58" x2="339.7" y2="315.58" stroke="#555" stroke-width="1" />
<line x1="38.5" y1="312.93" x2="40.3" y2="312.93" stroke="#555" stroke-width="1" />
<line x1="341.5" y1="312.93" x2="339.7" y2="312.93" stroke="#555" stroke-width="1" />
<line x1="38.5" y1="310.69" x2="40.3" y2="310.69" stroke="#555" stroke-width="1" />
<line x1="341.5" y1="310.69" x2="339.7" y2="310.69" stroke="#555" stroke-width="1" />
<line x1="38.5" y1="308.75" x2="40.3" y2="308.75" stroke="#555" stroke-width="1" />
<line x1="341.5" y1="308.75" x2="339.7" y2="308.75" stroke="#555" stroke-width="1" />
<line x1="38.5" y1="307.03" x2="40.3" y2="307.03" stroke="#555" stroke-width="1" />
<line x1="341.5" y1="307.03" x2="339.7" y2="307.03" stroke="#555" stroke-width="1" />
<line x1="38.5" y1="305.5" x2="41.7" y2="305.5" stroke="#555" stroke-width="1" />
<line x1="341.5" y1="305.5" x2="338.3" y2="305.5" stroke="#555" stroke-width="1" />
<line x1="38.5" y1="295.42" x2="40.3" y2="295.42" stroke="#555" stroke-width="1" />
<line x1="341.5" y1="295.42" x2="339.7" y2="295.42" stroke="#555" stroke-width="1" />
<line x1="38.5" y1="289.52" x2="40.3" y2="289.52" stroke="#555" stroke-width="1" />
<line x1="341.5" y1="289.52" x2="339.7" y2="289.52" stroke="#555" stroke-width="1" />
<line x1="38.5" y1="285.33" x2="40.3" y2="285.33" stroke="#555" stroke-width="1" />
<line x1="341.5" y1="285.33" x2="339.7" y2="285.33" stroke="#555" stroke-width="1" />
<line x1="38.5" y1="282.08" x2="40.3" y2="282.08" stroke="#555" stroke-width="1" />
<line x1="341.5" y1="282.08" x2="339.7" y2="282.08" stroke="#555" stroke-width="1" />
<line x1="38.5" y1="279.43" x2="40.3" y2="279.43" stroke="#555" stroke-width="1" />
<line x1="341.5" y1="279.43" x2="339.7" y2="279.43" stroke="#555" stroke-width="1" />
<line x1="38.5" y1="277.19" x2="40.3" y2="277.19" stroke="#555" stroke-width="1" />
<line x1="341.5" y1="277.19" x2="339.7" y2="277.19" stroke="#555" stroke-width="1" />
<line x1="38.5" y1="275.25" x2="40.3" y2="275.25" stroke="#555" stroke-width="1" />
<line x1="341.5" y1="275.25" x2="339.7" y2="275.25" stroke="#555" stroke-width="1" />
<line x1="38.5" y1="273.53" x2="40.3" y2="273.53" stroke="#555" stroke-width="1" />
<line x1="341.5" y1="273.53" x2="339.7" y2="273.53" stroke="#555" stroke-width="1" />
<line x1="38.5" y1="272" x2="41.7" y2="272" stroke="#555" stroke-width="1" />
<line x1="341.5" y1="272" x2="338.3" y2="272" stroke="#555" stroke-width="1" />
<line x1="38.5" y1="261.92" x2="40.3" y2="261.92" stroke="#555" stroke-width="1" />
<line x1="341.5" y1="261.92" x2="339.7" y2="261.92" stroke="#555" stroke-width="1" />
<line x1="38.5" y1="256.02" x2="40.3" y2="256.02" stroke="#555" stroke-width="1" />
<line x1="341.5" y1="256.02" x2="339.7" y2="256.02" stroke="#555" stroke-width="1" />
<line x1="38.5" y1="251.83" x2="40.3" y2="251.83" stroke="#555" stroke-width="1" />
<line x1="341.5" y1="251.83" x2="339.7" y2="251.83" stroke="#555" stroke-width="1" />
<line x1="38.5" y1="248.58" x2="40.3" y2="248.58" stroke="#555" stroke-width="1" />
<line x1="341.5" y1="248.58" x2="339.7" y2="248.58" stroke="#555" stroke-width="1" />
<line x1="38.5" y1="245.93" x2="40.3" y2="245.93" stroke="#555" stroke-width="1" />
<line x1="341.5" y1="245.93" x2="339.7" y2="245.93" stroke="#555" stroke-width="1" />
<line x1="38.5" y1="243.69" x2="40.3" y2="243.69" stroke="#555" stroke-width="1" />
<line x1="341.5" y1="243.69" x2="339.7" y2="243.69" stroke="#555" stroke-width="1" />
<line x1="38.5" y1="241.75" x2="40.3" y2="241.75" stroke="#555" stroke-width="1" />
<line x1="341.5" y1="241.75" x2="339.7" y2="241.75" stroke="#555" stroke-width="1" />
<line x1="38.5" y1="240.03" x2="40.3" y2="240.03" stroke="#555" stroke-width="1" />
<line x1="341.5" y1="240.03" x2="339.7" y2="240.03" stroke="#555" stroke-width="1" />
<line x1="38.5" y1="238.5" x2="41.7" y2="238.5" stroke="#555" stroke-width="1" />
<line x1="341.5" y1="238.5" x2="338.3" y2="238.5" stroke="#555" stroke-width="1" />
<line x1="38.5" y1="228.42" x2="40.3" y2="228.42" stroke="#555" stroke-width="1" />
<line x1="341.5" y1="228.42" x2="339.7" y2="228.42" stroke="#555" stroke-width="1" />
<line x1="38.5" y1="222.52" x2="40.3" y2="222.52" stroke="#555" stroke-width="1" />
<line x1="341.5" y1="222.52" x2="339.7" y2="222.52" stroke="#555" stroke-width="1" />
<line x1="38.5" y1="218.33" x2="40.3" y2="218.33" stroke="#555" stroke-width="1" />
<line x1="341.5" y1="218.33" x2="339.7" y2="218.33" stroke="#555" stroke-width="1" />
<line x1="38.5" y1="215.08" x2="40.3" y2="215.08" stroke="#555" stroke-width="1" />
<line x1="341.5" y1="215.08" x2="339.7" y2="215.08" stroke="#555" stroke-width="1" />
<line x1="38.5" y1="212.43" x2="40.3" y2="212.43" stroke="#555" stroke-width="1" />
<line x1="341.5" y1="212.43" x2="339.7" y2="212.43" stroke="#555" stroke-width="1" />
<line x1="38.5" y1="210.19" x2="40.3" y2="210.19" stroke="#555" stroke-width="1" />
<line x1="341.5" y1="210.19" x2="339.7" y2="210.19" stroke="#555" stroke-width="1" />
<line x1="38.5" y1="208.25" x2="40.3" y2="208.25" stroke="#555" stroke-width="1" />
<line x1="341.5" y1="208.25" x2="339.7" y2="208.25" stroke="#555" stroke-width="1" />
<line x1="38.5" y1="206.53" x2="40.3" y2="206.53" stroke="#555" stroke-width="1" />
<line x1="341.5" y1="206.53" x2="339.7" y2="206.53" stroke="#555" stroke-width="1" />
<line x1="68.8" y1="339" x2="68.8" y2="335" stroke="#555" stroke-width="1" />
<line x1="68.8" y1="205" x2="68.8" y2="209" stroke="#555" stroke-width="1" />
<line x1="99.1" y1="339" x2="99.1" y2="335" stroke="#555" stroke-width="1" />
<line x1="99.1" y1="205" x2="99.1" y2="209" stroke="#555" stroke-width="1" />
<line x1="129.4" y1="339" x2="129.4" y2="335" stroke="#555" stroke-width="1" />
<line x1="129.4" y1="205" x2="129.4" y2="209" stroke="#555" stroke-width="1" />
<line x1="159.7" y1="339" x2="159.7" y2="335" stroke="#555" stroke-width="1" />
<line x1="159.7" y1="205" x2="159.7" y2="209" stroke="#555" stroke-width="1" />
<line x1="190" y1="339" x2="190" y2="335" stroke="#555" stroke-width="1" />
<line x1="190" y1="205" x2="190" y2="209" stroke="#555" stroke-width="1" />
<line x1="220.3" y1="339" x2="220.3" y2="335" stroke="#555" stroke-width="1" />
<line x1="220.3" y1="205" x2="220.3" y2="209" stroke="#555" stroke-width="1" />
<line x1="250.6" y1="339" x2="250.6" y2="335" stroke="#555" stroke-width="1" />
<line x1="250.6" y1="205" x2="250.6" y2="209" stroke="#555" stroke-width="1" />
<line x1="280.9" y1="339" x2="280.9" y2="335" stroke="#555" stroke-width="1" />
<line x1="280.9" y1="205" x2="280.9" y2="209" stroke="#555" stroke-width="1" />
<line x1="311.2" y1="339" x2="311.2" y2="335" stroke="#555" stroke-width="1" />
<line x1="311.2" y1="205" x2="311.2" y2="209" stroke="#555" stroke-width="1" />
<text x="35" y="211.4" font-size="10.1" text-anchor="end" font-weight="normal" fill="#000" stroke="#000" stroke-width="0.18" >10<tspan font-size="6.2" dy="-6.3" dx="0.3" stroke-width="0.1">2</tspan></text>
<text x="35" y="278.4" font-size="10.1" text-anchor="end" font-weight="normal" fill="#000" stroke="#000" stroke-width="0.18" >10<tspan font-size="6.2" dy="-6.3" dx="0.3" stroke-width="0.1">0</tspan></text>
<text x="35" y="345.4" font-size="10.1" text-anchor="end" font-weight="normal" fill="#000" stroke="#000" stroke-width="0.18" >10<tspan font-size="6.2" dy="-6.3" dx="0.3" stroke-width="0.1">-2</tspan></text>
<text x="68.8" y="351.2" font-size="10.5" text-anchor="middle" font-weight="normal" fill="#000" stroke="#000" stroke-width="0.18" >100</text>
<text x="129.4" y="351.2" font-size="10.5" text-anchor="middle" font-weight="normal" fill="#000" stroke="#000" stroke-width="0.18" >200</text>
<text x="190" y="351.2" font-size="10.5" text-anchor="middle" font-weight="normal" fill="#000" stroke="#000" stroke-width="0.18" >300</text>
<text x="250.6" y="351.2" font-size="10.5" text-anchor="middle" font-weight="normal" fill="#000" stroke="#000" stroke-width="0.18" >400</text>
<text x="311.2" y="351.2" font-size="10.5" text-anchor="middle" font-weight="normal" fill="#000" stroke="#000" stroke-width="0.18" >500</text>
<text x="190" y="367.8" font-size="12" text-anchor="middle" font-weight="normal" fill="#000" stroke="#000" stroke-width="0.18" >Frequency (Hz)</text>
<text x="11.2" y="271" font-size="12" text-anchor="middle" font-weight="normal" fill="#000" stroke="#000" stroke-width="0.18" transform="rotate(-90 11.2 271)">Transmission</text>
<line x1="49.4" y1="301.7" x2="77.4" y2="301.7" stroke="#0b5fbd" stroke-width="1.85" />
<line x1="49.4" y1="319.8" x2="77.4" y2="319.8" stroke="#d7360e" stroke-width="1.85" />
<text x="81.8" y="304.3" font-size="10.5" text-anchor="start" font-weight="normal" fill="#000" stroke="#000" stroke-width="0.18" >Meta-Group</text>
<text x="81.8" y="322.6" font-size="10.5" text-anchor="start" font-weight="normal" fill="#000" stroke="#000" stroke-width="0.18" >Ctrl-Group</text>
<text x="241.6" y="214.6" font-size="10.5" text-anchor="start" font-weight="normal" fill="#000" stroke="#000" stroke-width="0.18" >D</text>
<line x1="240.5" y1="210" x2="238.69" y2="211.46" stroke="#ee1c24" stroke-width="1.1" />
<path d="M234.4 214.9 L237.28 209.7 L240.1 213.21 Z" fill="#ee1c24"/>
<text x="215.4" y="321.8" font-size="10.5" text-anchor="start" font-weight="normal" fill="#000" stroke="#000" stroke-width="0.18" >C</text>
<line x1="223.7" y1="314" x2="227.98" y2="309.56" stroke="#ee1c24" stroke-width="1.1" />
<path d="M231.8 305.6 L229.6 311.12 L226.36 308 Z" fill="#ee1c24"/>
<text x="302.2" y="214.4" font-size="10.5" text-anchor="start" font-weight="normal" fill="#000" stroke="#000" stroke-width="0.18" >F</text>
<line x1="303.9" y1="215.7" x2="301.61" y2="218.59" stroke="#ee1c24" stroke-width="1.1" />
<path d="M298.2 222.9 L299.85 217.19 L303.38 219.98 Z" fill="#ee1c24"/>
<text x="276.2" y="332.3" font-size="10.5" text-anchor="start" font-weight="normal" fill="#000" stroke="#000" stroke-width="0.18" >E</text>
<line x1="285.3" y1="326.5" x2="289.52" y2="322.69" stroke="#ee1c24" stroke-width="1.1" />
<path d="M293.6 319 L291.03 324.36 L288.01 321.02 Z" fill="#ee1c24"/></svg></body></html>
